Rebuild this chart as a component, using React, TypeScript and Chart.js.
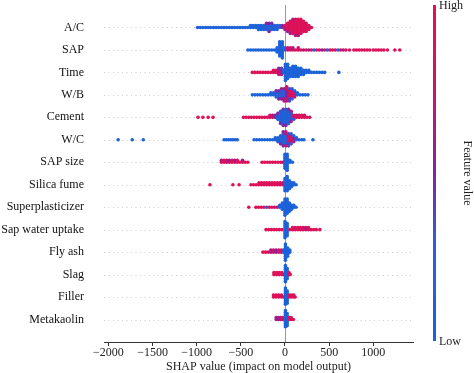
import { useEffect, useRef } from 'react';
import { Chart, registerables } from 'chart.js';

Chart.register(...registerables);

const FONT = '"Liberation Serif", "Times New Roman", serif';

const features = [
  'A/C', 'SAP', 'Time', 'W/B', 'Cement', 'W/C', 'SAP size', 'Silica fume',
  'Superplasticizer', 'Sap water uptake', 'Fly ash', 'Slag', 'Filler', 'Metakaolin',
];
const xTicks = [-2000, -1500, -1000, -500, 0, 500, 1000];

// [SHAP value, number of samples at that value, feature value 0 (low) .. 1 (high)]
type Bin = [number, number, number];

const acBins: Bin[] = [
  [-990, 1, 0.05], [-960, 1, 0.05], [-930, 1, 0.05], [-900, 1, 0.05], [-870, 1, 0.05], [-840, 1, 0.05],
  [-810, 1, 0.05], [-780, 1, 0.05], [-750, 1, 0.05], [-720, 1, 0.05], [-690, 1, 0.05], [-660, 1, 0.05],
  [-630, 1, 0.05], [-600, 1, 0.05], [-570, 1, 0.05], [-540, 1, 0.05], [-510, 1, 0.05], [-480, 1, 0.05],
  [-450, 1, 0.05], [-420, 1, 0.05], [-390, 2, 0.05], [-360, 2, 0.05], [-330, 2, 0.05], [-300, 3, 0.05],
  [-270, 3, 0.05], [-240, 3, 0.1], [-210, 3, 0.1], [-210, 1, 0.5], [-180, 3, 0.2], [-180, 2, 0.5],
  [-150, 3, 0.1], [-150, 1, 0.45], [-120, 3, 0.05], [-90, 3, 0.1], [-60, 2, 0.3], [-30, 2, 0.5],
  [0, 2, 0.85], [0, 1, 0.6], [30, 4, 0.9], [30, 1, 0.55], [60, 6, 0.9], [60, 1, 0.6], [90, 7, 0.92],
  [90, 1, 0.6], [120, 8, 0.9], [120, 1, 0.65], [150, 8, 0.92], [150, 1, 0.6], [180, 8, 0.9],
  [210, 6, 0.9], [240, 5, 0.9], [270, 3, 0.9], [300, 1, 0.9],
];

const sapBins: Bin[] = [
  [-420, 1, 0.05], [-390, 1, 0.05], [-360, 1, 0.05], [-330, 1, 0.05], [-300, 1, 0.05], [-270, 1, 0.05],
  [-240, 1, 0.05], [-210, 1, 0.05], [-180, 1, 0.05], [-150, 1, 0.05], [-120, 1, 0.05],
  [-90, 3, 0.05], [-60, 8, 0.05], [-30, 9, 0.05], [0, 2, 0.3],
  [30, 2, 0.7], [60, 2, 0.85], [90, 1, 0.9], [90, 1, 0.6], [120, 1, 0.9], [150, 2, 0.8], [180, 1, 0.9],
  [210, 1, 0.7], [240, 1, 0.9], [270, 1, 0.6], [300, 1, 0.9], [330, 1, 0.3], [360, 1, 0.9], [390, 1, 0.85],
  [420, 1, 0.5], [450, 1, 0.9], [480, 1, 0.2], [510, 1, 0.9], [540, 1, 0.85], [570, 1, 0.9], [600, 1, 0.3],
  [630, 1, 0.9], [660, 1, 0.6], [690, 1, 0.9], [730, 1, 0.9], [780, 1, 0.9], [810, 1, 0.9], [840, 1, 0.9],
  [870, 1, 0.85], [900, 1, 0.9], [930, 1, 0.9], [960, 1, 0.9], [1000, 1, 0.9], [1030, 1, 0.9],
  [1060, 1, 0.9], [1090, 1, 0.9], [1120, 1, 0.9], [1160, 1, 0.9], [1245, 1, 0.9], [1300, 1, 0.9],
];

const timeBins: Bin[] = [
  [-370, 1, 0.92], [-340, 1, 0.92], [-310, 1, 0.92], [-280, 1, 0.92], [-250, 1, 0.92], [-220, 1, 0.92],
  [-190, 1, 0.92], [-160, 1, 0.92], [-130, 2, 0.9], [-100, 2, 0.85], [-70, 3, 0.75], [-70, 1, 0.5],
  [-40, 3, 0.6], [-40, 1, 0.4], [-15, 2, 0.3], [5, 9, 0.05], [30, 8, 0.05], [60, 5, 0.05], [90, 6, 0.05],
  [120, 6, 0.05], [150, 5, 0.05], [180, 4, 0.05], [210, 3, 0.05], [240, 2, 0.05], [270, 2, 0.05],
  [300, 1, 0.05], [330, 1, 0.05], [360, 1, 0.05], [390, 1, 0.05], [420, 1, 0.05], [450, 1, 0.05],
  [610, 1, 0.05],
];

const wbBins: Bin[] = [
  [-370, 1, 0.05], [-340, 1, 0.05], [-310, 1, 0.05], [-280, 1, 0.05], [-250, 1, 0.05], [-220, 1, 0.05],
  [-190, 1, 0.05], [-160, 2, 0.1], [-130, 2, 0.1], [-100, 3, 0.15], [-100, 1, 0.5], [-70, 3, 0.2],
  [-70, 2, 0.5], [-40, 4, 0.25], [-40, 2, 0.55], [-10, 4, 0.3], [-10, 3, 0.6], [20, 4, 0.5], [20, 4, 0.8],
  [50, 4, 0.85], [50, 3, 0.4], [80, 4, 0.85], [80, 2, 0.3], [110, 3, 0.8], [110, 1, 0.2], [140, 2, 0.1],
  [170, 1, 0.05], [200, 1, 0.05], [230, 1, 0.05], [260, 1, 0.05],
];

const cementBins: Bin[] = [
  [-985, 1, 0.92], [-930, 1, 0.92], [-870, 1, 0.92], [-815, 1, 0.92],
  [-470, 1, 0.92], [-440, 1, 0.92], [-410, 1, 0.92], [-380, 1, 0.92], [-350, 1, 0.9], [-320, 1, 0.92],
  [-290, 1, 0.92], [-260, 1, 0.9], [-230, 1, 0.92], [-200, 1, 0.9], [-170, 2, 0.85], [-140, 2, 0.7],
  [-110, 2, 0.5], [-80, 3, 0.1], [-80, 1, 0.5], [-50, 6, 0.1], [-50, 1, 0.45], [-20, 7, 0.1], [-20, 2, 0.5],
  [10, 8, 0.08], [10, 1, 0.5], [40, 7, 0.1], [40, 1, 0.5], [70, 4, 0.2], [70, 2, 0.6], [100, 2, 0.8],
  [100, 1, 0.3], [130, 2, 0.9], [160, 2, 0.9], [190, 2, 0.9], [220, 2, 0.85], [250, 1, 0.9], [280, 1, 0.9],
];

const wcBins: Bin[] = [
  [-1890, 1, 0.05], [-1730, 1, 0.05], [-1605, 1, 0.05],
  [-690, 1, 0.05], [-665, 1, 0.05], [-640, 1, 0.05], [-615, 1, 0.05], [-590, 1, 0.05], [-565, 1, 0.05],
  [-540, 1, 0.05], [-350, 1, 0.05], [-320, 1, 0.05], [-290, 1, 0.05], [-260, 1, 0.05], [-230, 1, 0.05],
  [-200, 1, 0.1], [-170, 1, 0.05], [-140, 1, 0.05], [-110, 2, 0.1], [-80, 3, 0.1], [-50, 4, 0.15],
  [-50, 1, 0.5], [-20, 6, 0.1], [-20, 2, 0.5], [10, 5, 0.2], [10, 3, 0.7], [40, 4, 0.8], [40, 3, 0.4],
  [70, 4, 0.85], [70, 2, 0.3], [100, 3, 0.6], [100, 1, 0.1], [130, 2, 0.1], [160, 1, 0.05],
  [190, 1, 0.05], [215, 1, 0.05], [317, 1, 0.05],
];

const sapSizeBins: Bin[] = [
  [-720, 1, 0.92], [-720, 1, 0.6], [-690, 1, 0.9], [-690, 1, 0.92], [-660, 1, 0.6], [-660, 1, 0.9],
  [-630, 1, 0.92], [-630, 1, 0.5], [-600, 1, 0.9], [-600, 1, 0.92], [-570, 1, 0.92], [-570, 1, 0.6],
  [-540, 1, 0.9], [-540, 1, 0.92], [-510, 1, 0.92], [-480, 1, 0.9], [-480, 1, 0.6], [-450, 1, 0.92],
  [-420, 1, 0.92], [-260, 1, 0.92], [-230, 1, 0.92], [-200, 1, 0.92], [-170, 1, 0.9], [-140, 1, 0.92],
  [-110, 1, 0.92], [-80, 1, 0.9], [-50, 1, 0.92], [-25, 1, 0.7], [0, 8, 0.05], [25, 9, 0.05],
  [55, 2, 0.05], [85, 1, 0.05],
];

const silicaBins: Bin[] = [
  [-850, 1, 0.92], [-590, 1, 0.92], [-520, 1, 0.92],
  [-385, 1, 0.92], [-355, 1, 0.92], [-325, 1, 0.9], [-295, 2, 0.92], [-265, 2, 0.9], [-235, 2, 0.92],
  [-205, 2, 0.92], [-175, 2, 0.9], [-145, 2, 0.92], [-115, 2, 0.9], [-85, 2, 0.92], [-55, 2, 0.85],
  [-25, 2, 0.8], [0, 7, 0.05], [25, 8, 0.05], [50, 5, 0.05], [75, 3, 0.05], [100, 2, 0.05], [125, 1, 0.05],
];

const superBins: Bin[] = [
  [-410, 1, 0.92], [-330, 1, 0.92], [-300, 1, 0.92], [-270, 1, 0.9], [-240, 1, 0.9], [-210, 1, 0.3],
  [-180, 1, 0.9], [-150, 1, 0.9], [-120, 1, 0.8], [-90, 1, 0.7], [-60, 2, 0.2], [-30, 4, 0.1],
  [0, 9, 0.05], [25, 8, 0.05], [50, 5, 0.05], [75, 3, 0.05], [100, 2, 0.05], [125, 1, 0.05],
];

const sapUptakeBins: Bin[] = [
  [-215, 1, 0.92], [-185, 1, 0.92], [-155, 1, 0.92], [-125, 1, 0.92], [-95, 1, 0.92], [-65, 1, 0.92],
  [-35, 1, 0.92], [0, 9, 0.05], [25, 7, 0.05], [55, 1, 0.9], [85, 2, 0.9], [115, 2, 0.9], [145, 2, 0.85],
  [175, 2, 0.9], [205, 2, 0.9], [235, 2, 0.7], [265, 2, 0.9], [295, 1, 0.9], [325, 1, 0.9], [355, 1, 0.9],
  [395, 1, 0.9],
];

const flyAshBins: Bin[] = [
  [-250, 1, 0.92], [-220, 1, 0.92], [-190, 1, 0.9], [-160, 2, 0.6], [-130, 2, 0.8], [-100, 2, 0.5],
  [-70, 2, 0.9], [-40, 2, 0.85], [-15, 2, 0.3], [5, 9, 0.05], [30, 5, 0.05], [55, 2, 0.05],
];

const slagBins: Bin[] = [
  [-125, 2, 0.92], [-95, 2, 0.92], [-65, 2, 0.9], [-35, 2, 0.9], [-10, 1, 0.9], [5, 10, 0.05],
  [25, 6, 0.05], [45, 2, 0.9], [60, 1, 0.9],
];

const fillerBins: Bin[] = [
  [-130, 2, 0.92], [-100, 2, 0.92], [-70, 2, 0.9], [-40, 2, 0.9], [-15, 1, 0.9], [5, 10, 0.05],
  [25, 7, 0.05], [50, 2, 0.9], [75, 2, 0.9], [100, 2, 0.9], [115, 1, 0.9],
];

const metakaolinBins: Bin[] = [
  [-100, 2, 0.6], [-75, 2, 0.55], [-50, 2, 0.7], [-25, 2, 0.85], [5, 10, 0.05], [25, 7, 0.05],
  [50, 2, 0.9], [70, 2, 0.9], [95, 1, 0.9],
];

const featureBins: Bin[][] = [
  acBins, sapBins, timeBins, wbBins, cementBins, wcBins, sapSizeBins, silicaBins,
  superBins, sapUptakeBins, flyAshBins, slagBins, fillerBins, metakaolinBins,
];

// red-blue colormap (low = blue, high = red)
const cmapStops: [number, number[]][] = [
  [0, [24, 100, 216]],
  [0.3, [50, 90, 214]],
  [0.5, [132, 36, 160]],
  [0.72, [196, 20, 112]],
  [1, [232, 16, 78]],
];
function cmap(t: number): string {
  for (let i = 1; i < cmapStops.length; i++) {
    const [t1, c1] = cmapStops[i];
    const [t0, c0] = cmapStops[i - 1];
    if (t <= t1) {
      const f = (t - t0) / (t1 - t0);
      const c = c0.map((v, k) => Math.round(v + (c1[k] - v) * f));
      return `rgb(${c[0]},${c[1]},${c[2]})`;
    }
  }
  const c = cmapStops[cmapStops.length - 1][1];
  return `rgb(${c[0]},${c[1]},${c[2]})`;
}

function buildDatasets() {
  const n = features.length;
  return featureBins.map((bins, i) => {
    const row = n - 1 - i;
    const groups = new Map<number, number[]>();
    bins.forEach(([v, cnt, fv]) => {
      const g = groups.get(v) || [];
      for (let k = 0; k < cnt; k++) g.push(fv);
      groups.set(v, g);
    });
    const data: { x: number; y: number }[] = [];
    const colors: string[] = [];
    groups.forEach((fvs, v) => {
      const half = Math.floor(fvs.length / 2);
      const d = half > 0 ? Math.min(0.09, 0.4 / half) : 0.09;
      fvs.forEach((fv, k) => {
        const step = Math.ceil(k / 2);
        const sign = k % 2 === 1 ? 1 : -1;
        data.push({ x: v, y: row + sign * step * d });
        colors.push(cmap(fv));
      });
    });
    return {
      label: features[i],
      data,
      backgroundColor: colors,
      borderWidth: 0,
      pointRadius: 1.8,
      pointHoverRadius: 1.8,
    };
  });
}

const decorPlugin = {
  id: 'shapDecor',
  beforeDatasetsDraw(chart: any) {
    const { ctx, chartArea, scales } = chart;
    const xs = scales.x;
    const ys = scales.y;
    ctx.save();
    ctx.strokeStyle = '#cccccc';
    ctx.lineWidth = 1;
    ctx.setLineDash([1, 3.5]);
    features.forEach((_, r) => {
      const y = Math.round(ys.getPixelForValue(r)) + 0.5;
      ctx.beginPath();
      ctx.moveTo(chartArea.left, y);
      ctx.lineTo(chartArea.right, y);
      ctx.stroke();
    });
    ctx.setLineDash([]);
    const x0 = Math.round(xs.getPixelForValue(0)) + 0.5;
    ctx.strokeStyle = '#999999';
    ctx.beginPath();
    ctx.moveTo(x0, chartArea.top);
    ctx.lineTo(x0, chartArea.bottom);
    ctx.stroke();
    ctx.restore();
  },
  afterDraw(chart: any) {
    const { ctx, chartArea } = chart;
    const top = chartArea.top;
    const bottom = chartArea.bottom - 1;
    const bx = chartArea.right + 20;
    ctx.save();
    const grad = ctx.createLinearGradient(0, bottom, 0, top);
    cmapStops.forEach(([t]) => grad.addColorStop(t, cmap(t)));
    ctx.fillStyle = grad;
    ctx.fillRect(bx, top, 3, bottom - top);
    ctx.fillStyle = '#222';
    ctx.font = `12px ${FONT}`;
    ctx.textAlign = 'left';
    ctx.textBaseline = 'middle';
    ctx.fillText('High', bx + 6, top + 1);
    ctx.fillText('Low', bx + 6, bottom + 1);
    ctx.translate(bx + 34, (top + bottom) / 2);
    ctx.rotate(Math.PI / 2);
    ctx.textAlign = 'center';
    ctx.fillText('Feature value', 0, 0);
    ctx.restore();
  },
};

export default function App() {
  const ref = useRef<HTMLCanvasElement | null>(null);
  useEffect(() => {
    if (!ref.current) return;
    const chart = new Chart(ref.current, {
      type: 'scatter',
      data: { datasets: buildDatasets() as any },
      options: {
        animation: false,
        responsive: true,
        maintainAspectRatio: false,
        events: [],
        layout: { padding: { left: 0, right: 61, top: 5, bottom: 0 } },
        plugins: { legend: { display: false }, tooltip: { enabled: false } },
        scales: {
          x: {
            type: 'linear',
            min: -2050,
            max: 1450,
            afterBuildTicks: (scale: any) => {
              scale.ticks = xTicks.map((v) => ({ value: v }));
            },
            ticks: {
              autoSkip: false,
              maxRotation: 0,
              padding: 1,
              color: '#222',
              font: { family: FONT, size: 12, lineHeight: 1 },
              callback: (v: any) => (Number(v) < 0 ? '\u2212' + Math.abs(Number(v)) : String(v)),
            },
            grid: { drawOnChartArea: false, drawTicks: true, tickLength: 4, color: '#333' },
            border: { display: true, color: '#333', width: 1 },
            title: {
              display: true,
              text: 'SHAP value (impact on model output)',
              color: '#222',
              font: { family: FONT, size: 12, lineHeight: 1 },
              padding: { top: 1, bottom: 0 },
            },
          },
          y: {
            type: 'linear',
            min: -1,
            max: features.length,
            afterBuildTicks: (scale: any) => {
              scale.ticks = features.map((_, i) => ({ value: i }));
            },
            afterFit: (scale: any) => {
              scale.width = 104;
              scale.paddingTop = 0;
              scale.paddingBottom = 0;
            },
            ticks: {
              autoSkip: false,
              padding: 20,
              color: '#111',
              font: { family: FONT, size: 12, lineHeight: 1 },
              callback: (v: any) => features[features.length - 1 - Number(v)],
            },
            grid: { display: false, drawTicks: false },
            border: { display: false },
          },
        },
      },
      plugins: [decorPlugin],
    });
    return () => chart.destroy();
  }, []);
  return (
    <div style={{ position: 'fixed', left: 0, top: 0, width: 474, height: 373, background: '#fff' }}>
      <canvas ref={ref} />
    </div>
  );
}
